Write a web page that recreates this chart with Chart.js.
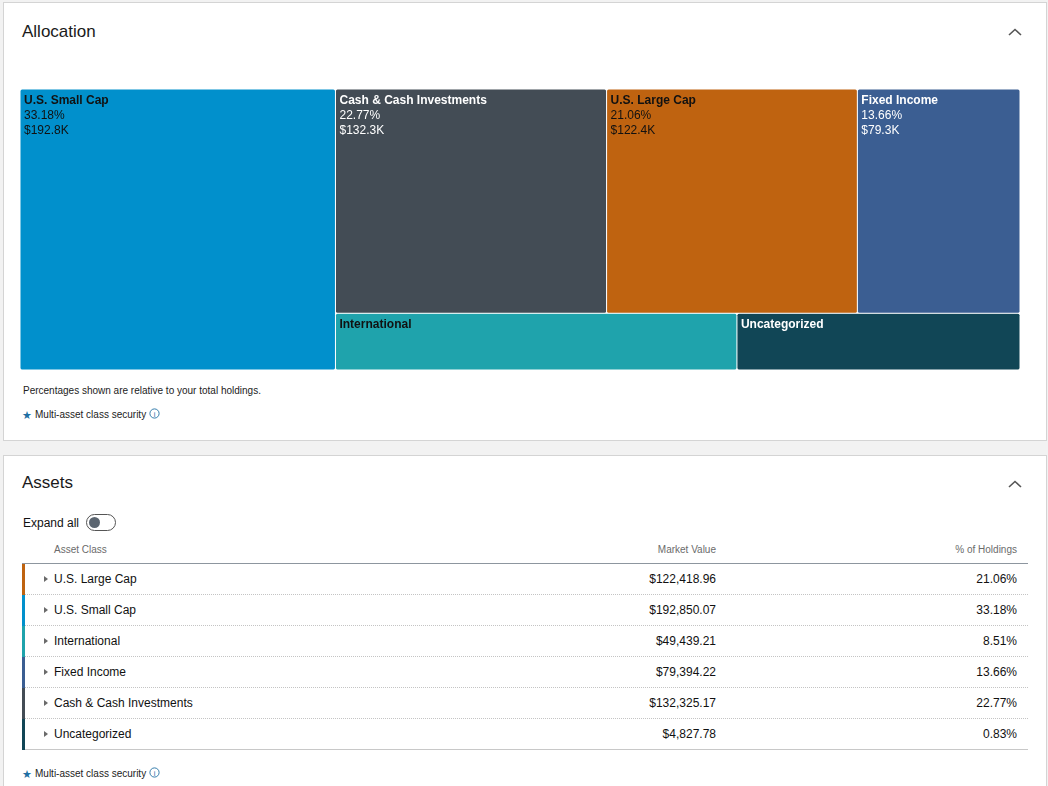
<!DOCTYPE html>
<html>
<head>
<meta charset="utf-8">
<script src="https://cdn.jsdelivr.net/npm/chart.js@4.4.1/dist/chart.umd.min.js"></script>
<style>
  html, body { margin: 0; padding: 0; }
  body { width: 1048px; height: 786px; overflow: hidden; background: #f2f2f2; position: relative;
         font-family: Arial, "Liberation Sans", sans-serif; color: #1a1a1a; }
  .card { position: absolute; left: 3px; width: 1044px; background: #fff; border: 1px solid #d4d4d4; box-sizing: border-box; }
  .abs { position: absolute; white-space: nowrap; }
  .title { font-size: 17px; line-height: 20px; color: #1a1a1a; }
  .small { font-size: 10px; line-height: 12px; color: #222; }
  .star { color: #1f6fa3; font-size: 11px; line-height: 12px; }
  .hdr { font-size: 10px; line-height: 12px; color: #6b6b6b; }
  .row { font-size: 12px; line-height: 14px; color: #111; }
  .sep { position: absolute; left: 25px; width: 1003px; height: 0; border-top: 1px dotted #c4c4c4; }
  .bar { position: absolute; left: 22px; width: 3px; }
  .tri { position: absolute; width: 0; height: 0; border-left: 4px solid #6a6a6a; border-top: 3px solid transparent; border-bottom: 3px solid transparent; }
  #chartBox { position: absolute; left: 20px; top: 89px; width: 1000px; height: 281px; }
</style>
</head>
<body>
<script>
// ---- data ----
const categories = ['U.S. Large Cap', 'U.S. Small Cap', 'International', 'Fixed Income', 'Cash & Cash Investments', 'Uncategorized'];
const marketValues = [122418.96, 192850.07, 49439.21, 79394.22, 132325.17, 4827.78];
const holdingPcts = [21.06, 33.18, 8.51, 13.66, 22.77, 0.83];
const tableHeaders = ['Asset Class', 'Market Value', '% of Holdings'];

// ---- styles ----
const tileColors = ['#bf6310', '#0190cc', '#1fa3ac', '#3b5e92', '#434c55', '#114656'];
const tileTextColors = ['#111111', '#111111', '#111111', '#ffffff', '#ffffff', '#ffffff'];
const MIN_TILE_WEIGHT = 6;      // smallest tiles are drawn with at least this weight
const TILE_ROWS = [3, 2];       // after the lead column, remaining tiles are split into rows
</script>

<div class="card" style="top:2px;height:439px;"></div>
<div class="card" style="top:455px;height:400px;"></div>

<div class="abs title" style="left:22px;top:22px;">Allocation</div>
<svg class="abs" style="left:1005px;top:25px;" width="20" height="14"><polyline points="4,10 10,4.5 16,10" fill="none" stroke="#555" stroke-width="1.6"/></svg>

<div id="chartBox"><canvas id="c" width="1000" height="281"></canvas></div>

<div class="abs small" style="left:23px;top:385px;">Percentages shown are relative to your total holdings.</div>
<div class="abs star" style="left:22px;top:409px;">★</div>
<div class="abs small" style="left:35px;top:409px;">Multi-asset class security</div>
<svg class="abs" style="left:149px;top:408px;" width="11" height="11"><circle cx="5.5" cy="5.5" r="4.6" fill="none" stroke="#1f6fa3" stroke-width="0.9"/><text x="5.5" y="8.6" font-size="7.5" font-family="Arial" fill="#1f6fa3" text-anchor="middle">i</text></svg>

<div class="abs title" style="left:22px;top:473px;">Assets</div>
<svg class="abs" style="left:1005px;top:477px;" width="20" height="14"><polyline points="4,10 10,4.5 16,10" fill="none" stroke="#555" stroke-width="1.6"/></svg>

<div class="abs row" style="left:23px;top:516px;">Expand all</div>
<div class="abs" style="left:86px;top:514px;width:30px;height:17px;border:1px solid #555;border-radius:9px;box-sizing:border-box;"></div>
<div class="abs" style="left:89px;top:517px;width:11px;height:11px;border-radius:50%;background:#5b6570;"></div>

<div id="table"></div>

<div class="abs star" style="left:22px;top:768px;">★</div>
<div class="abs small" style="left:35px;top:768px;">Multi-asset class security</div>
<svg class="abs" style="left:149px;top:767px;" width="11" height="11"><circle cx="5.5" cy="5.5" r="4.6" fill="none" stroke="#1f6fa3" stroke-width="0.9"/><text x="5.5" y="8.6" font-size="7.5" font-family="Arial" fill="#1f6fa3" text-anchor="middle">i</text></svg>

<script>
// ---- table ----
(function () {
  const t = document.getElementById('table');
  let h = '';
  h += '<div class="abs hdr" style="left:54px;top:544px;">' + tableHeaders[0] + '</div>';
  h += '<div class="abs hdr" style="right:' + (1048 - 716) + 'px;top:544px;">' + tableHeaders[1] + '</div>';
  h += '<div class="abs hdr" style="right:' + (1048 - 1017) + 'px;top:544px;">' + tableHeaders[2] + '</div>';
  h += '<div class="abs" style="left:22px;top:563px;width:1006px;height:1px;background:#8d969f;"></div>';
  const fmtMoney = v => '$' + v.toLocaleString('en-US', { minimumFractionDigits: 2, maximumFractionDigits: 2 });
  categories.forEach((name, i) => {
    const top = 564 + 31 * i;
    const mid = top + 14.5;
    h += '<div class="bar" style="top:' + top + 'px;height:31px;background:' + tileColors[i] + ';"></div>';
    h += '<div class="tri" style="left:44px;top:' + (mid - 3) + 'px;"></div>';
    h += '<div class="abs row" style="left:54px;top:' + (mid - 7) + 'px;">' + name.replace('&', '&amp;') + '</div>';
    h += '<div class="abs row" style="right:' + (1048 - 716) + 'px;top:' + (mid - 7) + 'px;">' + fmtMoney(marketValues[i]) + '</div>';
    h += '<div class="abs row" style="right:' + (1048 - 1017) + 'px;top:' + (mid - 7) + 'px;">' + holdingPcts[i].toFixed(2) + '%</div>';
    if (i < categories.length - 1) {
      h += '<div class="sep" style="top:' + (top + 30) + 'px;"></div>';
    } else {
      h += '<div class="abs" style="left:25px;top:' + (top + 30) + 'px;width:1003px;height:1px;background:#c8c8c8;"></div>';
    }
  });
  t.innerHTML = h;
})();

// ---- treemap tile controller built on Chart.js bars ----
class TreemapTileController extends Chart.BarController {
  _calculateBarIndexPixels(index, ruler) {
    const tile = this.getDataset().data[index];
    const xs = this._cachedMeta.iScale;
    const a = xs.getPixelForValue(tile.x0);
    const b = xs.getPixelForValue(tile.x1);
    return { base: Math.min(a, b), head: Math.max(a, b), center: (a + b) / 2, size: Math.abs(b - a) };
  }
}
TreemapTileController.id = 'treemapTile';
Chart.register(TreemapTileController);

// layout (in value units 0..1 on both axes)
const order = holdingPcts.map((p, i) => i).sort((a, b) => holdingPcts[b] - holdingPcts[a]);
const weights = holdingPcts.map(p => Math.max(p, MIN_TILE_WEIGHT));
const total = weights.reduce((s, v) => s + v, 0);
const tiles = [];
const lead = order[0];
const leadX1 = weights[lead] / total;
tiles.push({ idx: lead, x0: 0, x1: leadX1, y0: 0, y1: 1 });
const rest = order.slice(1);
const restSum = rest.reduce((s, i) => s + weights[i], 0);
let yCur = 0, k = 0;
TILE_ROWS.forEach(n => {
  const rowIdx = rest.slice(k, k + n); k += n;
  const rowSum = rowIdx.reduce((s, i) => s + weights[i], 0);
  const h = rowSum / restSum;
  let xCur = leadX1;
  rowIdx.forEach(i => {
    const w = (weights[i] / rowSum) * (1 - leadX1);
    tiles.push({ idx: i, x0: xCur, x1: xCur + w, y0: yCur, y1: yCur + h });
    xCur += w;
  });
  yCur += h;
});

const tileData = tiles.map(t => ({ x: (t.x0 + t.x1) / 2, y: [t.y0, t.y1], x0: t.x0, x1: t.x1, idx: t.idx }));

const shortMoney = v => '$' + (Math.floor(v / 100) / 10).toFixed(1) + 'K';

const tileLabels = {
  id: 'tileLabels',
  afterDatasetsDraw(chart) {
    const ctx = chart.ctx;
    const meta = chart.getDatasetMeta(0);
    meta.data.forEach((el, j) => {
      const d = tileData[j];
      const i = d.idx;
      const p = el.getProps(['x', 'y', 'base', 'width'], true);
      const left = p.x - p.width / 2;
      const top = Math.min(p.y, p.base);
      const height = Math.abs(p.base - p.y);
      ctx.save();
      ctx.fillStyle = tileTextColors[i];
      ctx.textBaseline = 'middle';
      ctx.textAlign = 'left';
      ctx.font = 'bold 12px Arial, "Liberation Sans", sans-serif';
      ctx.fillText(categories[i], left + 4, top + 11.5);
      if (height > 100) {
        ctx.font = '12px Arial, "Liberation Sans", sans-serif';
        ctx.fillText(holdingPcts[i].toFixed(2) + '%', left + 4, top + 27);
        ctx.fillText(shortMoney(marketValues[i]), left + 4, top + 42);
      }
      ctx.restore();
    });
  }
};

new Chart(document.getElementById('c'), {
  type: 'treemapTile',
  data: {
    labels: tiles.map(t => categories[t.idx]),
    datasets: [{
      data: tileData,
      backgroundColor: tiles.map(t => tileColors[t.idx]),
      borderColor: '#ffffff',
      borderWidth: 0.5,
      borderRadius: 2,
      borderSkipped: false,
      inflateAmount: 0
    }]
  },
  options: {
    responsive: false,
    animation: false,
    indexAxis: 'x',
    layout: { padding: 0 },
    plugins: { legend: { display: false }, tooltip: { enabled: false } },
    scales: {
      x: { type: 'linear', min: 0, max: 1, display: false, offset: false },
      y: { type: 'linear', min: 0, max: 1, reverse: true, display: false }
    }
  },
  plugins: [tileLabels]
});
</script>
</body>
</html>
